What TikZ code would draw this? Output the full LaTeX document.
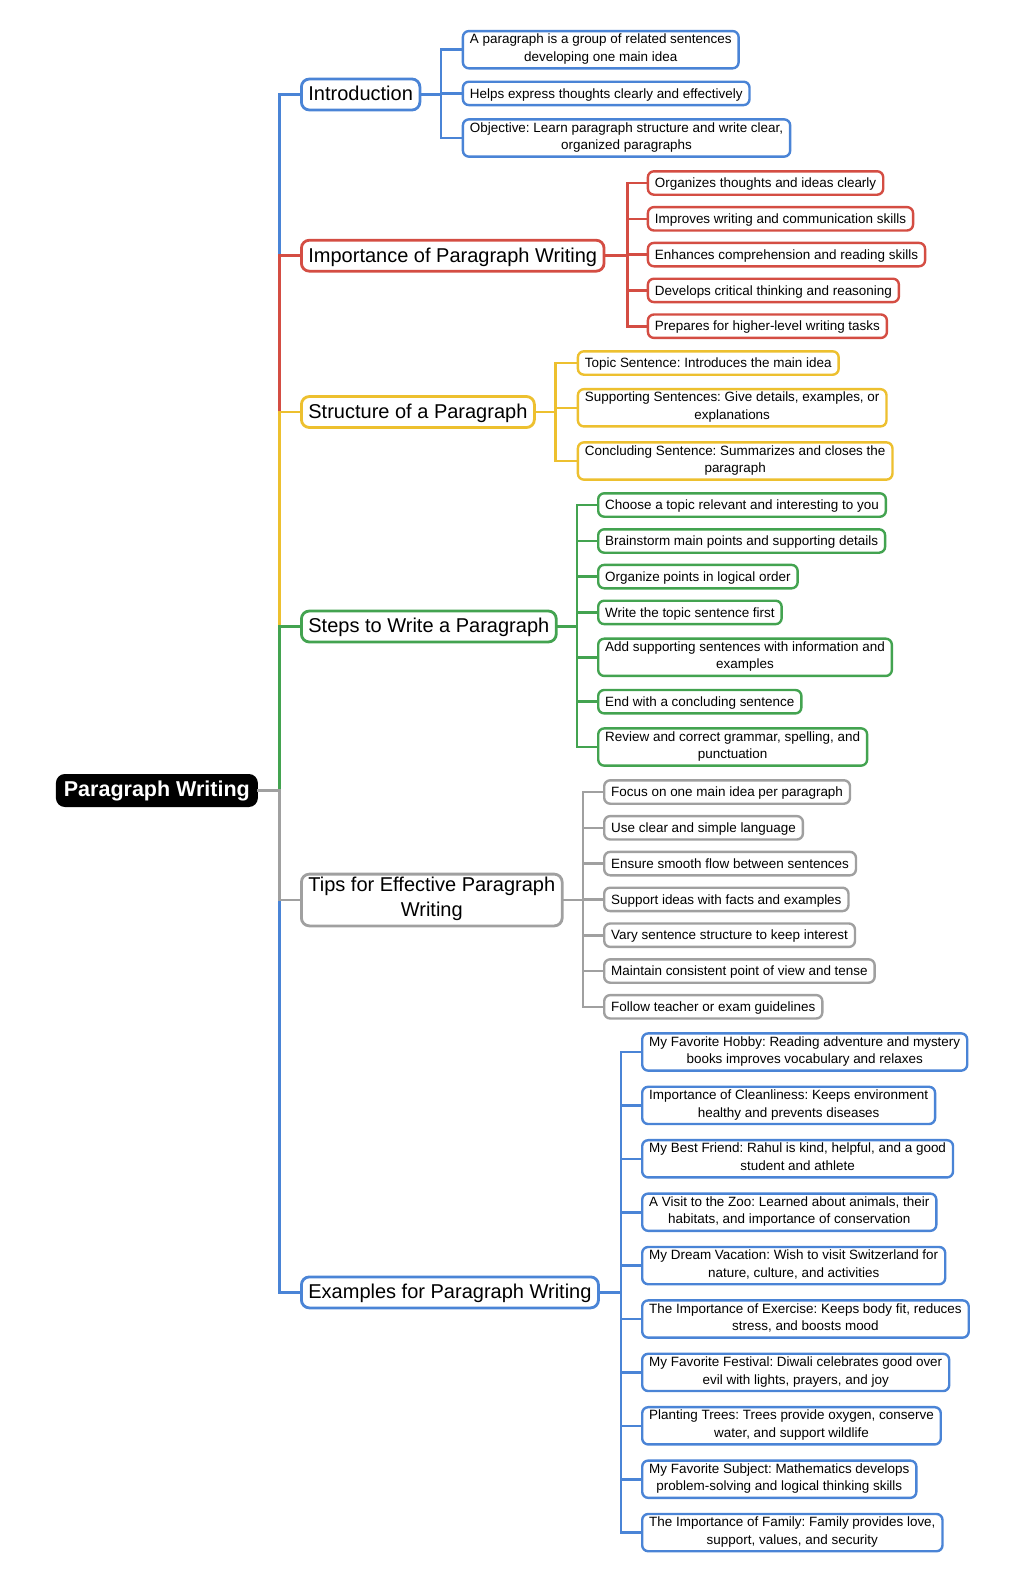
\documentclass[tikz,border=0pt]{standalone}
\usepackage{fontspec}
\setmainfont{Liberation Sans}
\frenchspacing
\definecolor{cblue}{HTML}{4A84D6}
\definecolor{cred}{HTML}{D44D43}
\definecolor{cyellow}{HTML}{EDC02F}
\definecolor{cgreen}{HTML}{43A350}
\definecolor{cgray}{HTML}{A0A0A0}
\newcommand\leafstrut{\rule[-4.1pt]{0pt}{17.6pt}}
\newcommand\mainstrut{\rule[-6.3pt]{0pt}{25.2pt}}
\tikzset{
  leafbox/.style={draw=#1, line width=2.4pt, rounded corners=6pt, fill=white, align=center,
    font=\fontsize{13.45}{17.6}\selectfont\frenchspacing, execute at begin node=\leafstrut, execute at end node=\leafstrut,
    inner xsep=7pt, inner ysep=2.9pt, anchor=west},
  mainbox/.style={draw=#1, line width=2.8pt, rounded corners=8pt, fill=white, align=center,
    font=\fontsize{20}{25.2}\selectfont\frenchspacing, execute at begin node=\mainstrut, execute at end node=\mainstrut,
    inner xsep=7pt, inner ysep=2.9pt, anchor=west},
  rootbox/.style={fill=black, text=white, rounded corners=9pt, font=\fontsize{21.5}{26}\selectfont\bfseries,
    text height=15.5pt, text depth=4.5pt, inner xsep=8pt, inner ysep=6.5pt, anchor=west},
  conn/.style={draw=#1, line width=2.6pt, line cap=rect},
}
\begin{document}
\begin{tikzpicture}[x=1pt,y=-1pt]
\useasboundingbox[fill=white] (0,0) rectangle (1024,1582);

% root
\node[rootbox] (root) at (55.7,790.5) {Paragraph Writing};

% main branches
\node[mainbox=cblue] (intro) at (300,94.5) {Introduction};
\node[mainbox=cred] (imp) at (300,255.7) {Importance of Paragraph Writing};
\node[mainbox=cyellow] (str) at (300,412) {Structure of a Paragraph};
\node[mainbox=cgreen] (steps) at (300,626.5) {Steps to Write a Paragraph};
\node[mainbox=cgray] (tips) at (300,900) {Tips for Effective Paragraph\\Writing};
\node[mainbox=cblue] (ex) at (300,1292.4) {Examples for Paragraph Writing};

% junctions
\coordinate (spine) at (279.5,790.5);
\coordinate (ji) at (441,94.5);
\coordinate (jm) at (627.5,255.7);
\coordinate (js) at (555.5,412);
\coordinate (jt) at (577,626.5);
\coordinate (jp) at (583,900);
\coordinate (je) at (621,1292.4);

% intro children
\node[leafbox=cblue] (i1) at (461.7,49.7) {A paragraph is a group of related sentences\\developing one main idea};
\node[leafbox=cblue] (i2) at (461.7,93.4) {Helps express thoughts clearly and effectively};
\node[leafbox=cblue] (i3) at (461.7,138) {Objective: Learn paragraph structure and write clear,\\organized paragraphs};

% importance children
\node[leafbox=cred] (m1) at (646.7,183) {Organizes thoughts and ideas clearly};
\node[leafbox=cred] (m2) at (646.7,218.8) {Improves writing and communication skills};
\node[leafbox=cred] (m3) at (646.7,254.6) {Enhances comprehension and reading skills};
\node[leafbox=cred] (m4) at (646.7,290.4) {Develops critical thinking and reasoning};
\node[leafbox=cred] (m5) at (646.7,326.2) {Prepares for higher-level writing tasks};

% structure children
\node[leafbox=cyellow] (s1) at (576.7,363) {Topic Sentence: Introduces the main idea};
\node[leafbox=cyellow] (s2) at (576.7,407.8) {Supporting Sentences: Give details, examples, or\\explanations};
\node[leafbox=cyellow] (s3) at (576.7,461) {Concluding Sentence: Summarizes and closes the\\paragraph};

% steps children
\node[leafbox=cgreen] (t1) at (597,505) {Choose a topic relevant and interesting to you};
\node[leafbox=cgreen] (t2) at (597,541) {Brainstorm main points and supporting details};
\node[leafbox=cgreen] (t3) at (597,576.6) {Organize points in logical order};
\node[leafbox=cgreen] (t4) at (597,612.4) {Write the topic sentence first};
\node[leafbox=cgreen] (t5) at (597,657.3) {Add supporting sentences with information and\\examples};
\node[leafbox=cgreen] (t6) at (597,701.7) {End with a concluding sentence};
\node[leafbox=cgreen] (t7) at (597,747) {Review and correct grammar, spelling, and\\punctuation};

% tips children
\node[leafbox=cgray] (p1) at (603,792) {Focus on one main idea per paragraph};
\node[leafbox=cgray] (p2) at (603,827.8) {Use clear and simple language};
\node[leafbox=cgray] (p3) at (603,863.6) {Ensure smooth flow between sentences};
\node[leafbox=cgray] (p4) at (603,899.4) {Support ideas with facts and examples};
\node[leafbox=cgray] (p5) at (603,935.2) {Vary sentence structure to keep interest};
\node[leafbox=cgray] (p6) at (603,971) {Maintain consistent point of view and tense};
\node[leafbox=cgray] (p7) at (603,1006.8) {Follow teacher or exam guidelines};

% examples children
\node[leafbox=cblue] (e1) at (641,1052) {My Favorite Hobby: Reading adventure and mystery\\books improves vocabulary and relaxes};
\node[leafbox=cblue] (e2) at (641,1105.4) {Importance of Cleanliness: Keeps environment\\healthy and prevents diseases};
\node[leafbox=cblue] (e3) at (641,1158.8) {My Best Friend: Rahul is kind, helpful, and a good\\student and athlete};
\node[leafbox=cblue] (e4) at (641,1212.2) {A Visit to the Zoo: Learned about animals, their\\habitats, and importance of conservation};
\node[leafbox=cblue] (e5) at (641,1265.6) {My Dream Vacation: Wish to visit Switzerland for\\nature, culture, and activities};
\node[leafbox=cblue] (e6) at (641,1319) {The Importance of Exercise: Keeps body fit, reduces\\stress, and boosts mood};
\node[leafbox=cblue] (e7) at (641,1372.4) {My Favorite Festival: Diwali celebrates good over\\evil with lights, prayers, and joy};
\node[leafbox=cblue] (e8) at (641,1425.8) {Planting Trees: Trees provide oxygen, conserve\\water, and support wildlife};
\node[leafbox=cblue] (e9) at (641,1479.2) {My Favorite Subject: Mathematics develops\\problem-solving and logical thinking skills};
\node[leafbox=cblue] (e10) at (641,1532.6) {The Importance of Family: Family provides love,\\support, values, and security};

% main spine
\draw[conn=cgray] (root.east) -- (spine);
\draw[conn=cblue] (spine |- intro.west) -- (spine |- imp.west);
\draw[conn=cred] (spine |- imp.west) -- (spine |- str.west);
\draw[conn=cyellow] (spine |- str.west) -- (spine |- steps.west);
\draw[conn=cgreen] (spine |- steps.west) -- (spine);
\draw[conn=cgray] (spine) -- (spine |- tips.west);
\draw[conn=cblue] (spine |- tips.west) -- (spine |- ex.west);
\draw[conn=cblue] (spine |- intro.west) -- (intro.west);
\draw[conn=cred] (spine |- imp.west) -- (imp.west);
\draw[conn=cyellow] (spine |- str.west) -- (str.west);
\draw[conn=cgreen] (spine |- steps.west) -- (steps.west);
\draw[conn=cgray] (spine |- tips.west) -- (tips.west);
\draw[conn=cblue] (spine |- ex.west) -- (ex.west);

% intro bracket
\draw[conn=cblue] (intro.east) -- (ji);
\draw[conn=cblue] (ji |- i1.west) -- (ji |- i3.west);
\foreach \n in {i1,i2,i3} \draw[conn=cblue] (ji |- \n.west) -- (\n.west);

% importance bracket
\draw[conn=cred] (imp.east) -- (jm);
\draw[conn=cred] (jm |- m1.west) -- (jm |- m5.west);
\foreach \n in {m1,m2,m3,m4,m5} \draw[conn=cred] (jm |- \n.west) -- (\n.west);

% structure bracket
\draw[conn=cyellow] (str.east) -- (js);
\draw[conn=cyellow] (js |- s1.west) -- (js |- s3.west);
\foreach \n in {s1,s2,s3} \draw[conn=cyellow] (js |- \n.west) -- (\n.west);

% steps bracket
\draw[conn=cgreen] (steps.east) -- (jt);
\draw[conn=cgreen] (jt |- t1.west) -- (jt |- t7.west);
\foreach \n in {t1,t2,t3,t4,t5,t6,t7} \draw[conn=cgreen] (jt |- \n.west) -- (\n.west);

% tips bracket
\draw[conn=cgray] (tips.east) -- (jp);
\draw[conn=cgray] (jp |- p1.west) -- (jp |- p7.west);
\foreach \n in {p1,p2,p3,p4,p5,p6,p7} \draw[conn=cgray] (jp |- \n.west) -- (\n.west);

% examples bracket
\draw[conn=cblue] (ex.east) -- (je);
\draw[conn=cblue] (je |- e1.west) -- (je |- e10.west);
\foreach \n in {e1,e2,e3,e4,e5,e6,e7,e8,e9,e10} \draw[conn=cblue] (je |- \n.west) -- (\n.west);
\end{tikzpicture}
\end{document}
